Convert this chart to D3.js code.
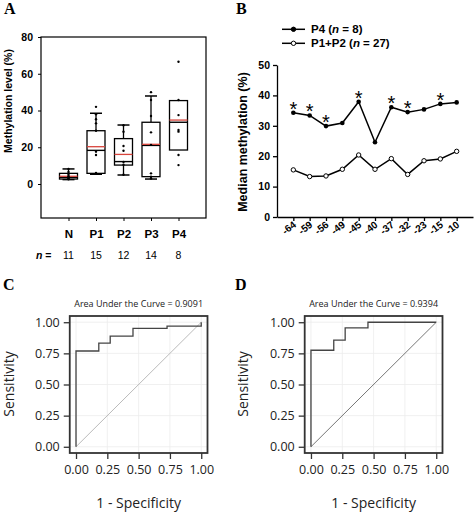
<!DOCTYPE html>
<html>
<head>
<meta charset="utf-8">
<title>Methylation panels</title>
<script src="https://d3js.org/d3.v7.min.js"></script>
<style>
  body { margin: 0; background: #fff; }
  svg { display: block; }
  .bold { font-family: "Liberation Sans", Arial, sans-serif; font-weight: bold; }
  .roc { font-family: "Open Sans", "Noto Sans", sans-serif; fill: #222; }
</style>
</head>
<body>
<div id="chart"></div>
<script>
// ---- panel A data (box plots)
var groups = ["N", "P1", "P2", "P3", "P4"];
var groupN = [11, 15, 12, 14, 8];
var boxLow = [2.7, 5.8, 10.3, 4.0, 18.5];
var boxHigh = [5.8, 29.0, 24.7, 33.6, 45.4];
var medians = [3.6, 18.3, 12.2, 21.0, 33.6];
var means = [4.2, 20.3, 16.1, 21.6, 34.8];
var whiskLow = [2.4, 5.3, 4.9, 2.7, null];
var whiskHigh = [8.2, 38.5, 32.1, 47.9, null];
var groupPoints = [
  [8.2, 6.5, 5.0, 4.2, 3.5, 3.0, 2.6],
  [42, 38, 35.2, 33, 29, 17.6, 15.8, 6.0, 5.5],
  [32, 28.5, 20.7, 18.1, 12, 10.5, 5.0],
  [50, 45.7, 37, 28.1, 21.3, 5.8, 4.0, 3.0],
  [66.5, 45.7, 37.5, 29.4, 28.5, 15.8, 10.3]
];
var yTicksA = [0, 20, 40, 60, 80];

// ---- panel B data (median methylation by CpG position)
var positions = ["-64", "-59", "-56", "-49", "-45", "-40", "-37", "-32", "-23", "-15", "-10"];
var p4Values = [34.3, 33.4, 29.9, 30.9, 37.9, 24.6, 36.1, 34.5, 35.4, 37.2, 37.7];
var p12Values = [15.5, 13.3, 13.5, 15.7, 20.4, 15.7, 19.2, 14.0, 18.5, 19.1, 21.6];
var significant = [1, 1, 1, 0, 1, 0, 1, 1, 0, 1, 0];
var yTicksB = [0, 10, 20, 30, 40, 50];

// ---- panels C and D (ROC curves)
var fprC = [0, 0, 0.182, 0.182, 0.273, 0.273, 0.455, 0.455, 0.727, 0.727, 1, 1];
var tprC = [0, 0.769, 0.769, 0.833, 0.833, 0.889, 0.889, 0.95, 0.95, 0.968, 0.968, 1];
var fprD = [0, 0, 0.182, 0.182, 0.273, 0.273, 0.455, 0.455, 1];
var tprD = [0, 0.775, 0.775, 0.857, 0.857, 0.955, 0.955, 1, 1];
var aucC = "0.9091", aucD = "0.9394";
var rocTicks = [0, 0.25, 0.5, 0.75, 1];

var svg = d3.select("#chart").append("svg")
  .attr("width", 474).attr("height", 512);

// panel letters
function letter(t, x, y) {
  svg.append("text").attr("x", x).attr("y", y).text(t)
    .style("font-family", "'Liberation Serif', 'Times New Roman', serif")
    .style("font-weight", "bold").style("font-size", "16px");
}
letter("A", 4, 14); letter("B", 236, 14);
letter("C", 3, 290); letter("D", 235, 290);

// ================= Panel A =================
var xA = d3.scalePoint().domain(groups).range([41, 206]).padding(1);
var yA = d3.scaleLinear().domain([-18.5, 80]).range([218, 37]);

var gA = svg.append("g");
gA.append("rect").attr("x", 41).attr("y", 37).attr("width", 165).attr("height", 181)
  .attr("fill", "none").attr("stroke", "#000").attr("stroke-width", 1.2);

var axA = gA.append("g").attr("transform", "translate(41,0)")
  .call(d3.axisLeft(yA).tickValues(yTicksA).tickSize(3).tickPadding(5));
axA.select(".domain").remove();
axA.selectAll("text").attr("class", "bold").style("font-size", "10.5px").attr("fill", "#000");

var axAx = gA.append("g").attr("transform", "translate(0,218)")
  .call(d3.axisBottom(xA).tickSize(3).tickPadding(9));
axAx.select(".domain").remove();
axAx.selectAll("text").attr("class", "bold").style("font-size", "11.5px").attr("fill", "#000");

gA.append("text").attr("class", "bold").style("font-size", "10.5px")
  .attr("transform", "translate(12,101) rotate(-90)").attr("text-anchor", "middle")
  .text("Methylation level (%)");

// n row
var nRow = gA.append("text").attr("class", "bold").attr("x", 36).attr("y", 259)
  .style("font-size", "10.5px");
nRow.append("tspan").style("font-style", "italic").text("n");
nRow.append("tspan").text(" =");
gA.selectAll(".ncount").data(groups).enter().append("text")
  .attr("x", function(d) { return xA(d); }).attr("y", 259)
  .attr("text-anchor", "middle")
  .style("font-family", "'Liberation Sans', Arial, sans-serif").style("font-size", "10.5px")
  .text(function(d, i) { return groupN[i]; });

var boxW = 18, capW = 12;
groups.forEach(function(g, i) {
  var cx = xA(g);
  if (whiskLow[i] !== null) {
    gA.append("line").attr("x1", cx).attr("x2", cx)
      .attr("y1", yA(whiskHigh[i])).attr("y2", yA(boxHigh[i]))
      .attr("stroke", "#000").attr("stroke-width", 1.3);
    gA.append("line").attr("x1", cx).attr("x2", cx)
      .attr("y1", yA(boxLow[i])).attr("y2", yA(whiskLow[i]))
      .attr("stroke", "#000").attr("stroke-width", 1.3);
    [whiskHigh[i], whiskLow[i]].forEach(function(v) {
      gA.append("line").attr("x1", cx - capW / 2).attr("x2", cx + capW / 2)
        .attr("y1", yA(v)).attr("y2", yA(v))
        .attr("stroke", "#000").attr("stroke-width", 1.5);
    });
  }
  gA.append("rect").attr("x", cx - boxW / 2).attr("y", yA(boxHigh[i]))
    .attr("width", boxW).attr("height", yA(boxLow[i]) - yA(boxHigh[i]))
    .attr("fill", "#fff").attr("stroke", "#000").attr("stroke-width", 1.3);
  gA.append("line").attr("x1", cx - boxW / 2).attr("x2", cx + boxW / 2)
    .attr("y1", yA(medians[i])).attr("y2", yA(medians[i]))
    .attr("stroke", "#000").attr("stroke-width", 1.4);
  gA.append("line").attr("x1", cx - boxW / 2).attr("x2", cx + boxW / 2)
    .attr("y1", yA(means[i])).attr("y2", yA(means[i]))
    .attr("stroke", "#d8443c").attr("stroke-width", 1.3);
  gA.selectAll(null).data(groupPoints[i]).enter().append("circle")
    .attr("cx", cx).attr("cy", function(d) { return yA(d); })
    .attr("r", 1.2).attr("fill", "#000");
});

// ================= Panel B =================
var xB = d3.scalePoint().domain(positions).range([277, 473]).padding(1);
var yB = d3.scaleLinear().domain([0, 50]).range([217, 65]);
var gB = svg.append("g");

var axBy = gB.append("g").attr("transform", "translate(277,0)")
  .call(d3.axisLeft(yB).tickValues(yTicksB).tickSize(4).tickSizeOuter(0).tickPadding(3));
axBy.selectAll("text").attr("class", "bold").style("font-size", "10.5px").attr("fill", "#000");
axBy.select(".domain").attr("stroke-width", 1.3);
axBy.selectAll(".tick line").attr("stroke-width", 1.3);

var axBx = gB.append("g").attr("transform", "translate(0,217)")
  .call(d3.axisBottom(xB).tickSize(4).tickSizeOuter(0));
axBx.select(".domain").attr("stroke-width", 1.3);
axBx.selectAll(".tick line").attr("stroke-width", 1.3);
axBx.selectAll("text").attr("class", "bold").style("font-size", "10px").attr("fill", "#000")
  .attr("text-anchor", "end").attr("dy", null).attr("y", 0)
  .attr("transform", "translate(3,9) rotate(-38)");

gB.append("text").attr("class", "bold").style("font-size", "12.5px")
  .attr("transform", "translate(247,142) rotate(-90)").attr("text-anchor", "middle")
  .text("Median methylation (%)");

var lineB = d3.line().x(function(d, i) { return xB(positions[i]); }).y(function(d) { return yB(d); });
gB.append("path").datum(p4Values).attr("d", lineB)
  .attr("fill", "none").attr("stroke", "#000").attr("stroke-width", 1.5);
gB.append("path").datum(p12Values).attr("d", lineB)
  .attr("fill", "none").attr("stroke", "#000").attr("stroke-width", 1.5);
gB.selectAll(".p4pt").data(p4Values).enter().append("circle")
  .attr("cx", function(d, i) { return xB(positions[i]); }).attr("cy", function(d) { return yB(d); })
  .attr("r", 2.3).attr("fill", "#000");
gB.selectAll(".p12pt").data(p12Values).enter().append("circle")
  .attr("cx", function(d, i) { return xB(positions[i]); }).attr("cy", function(d) { return yB(d); })
  .attr("r", 2.2).attr("fill", "#fff").attr("stroke", "#000").attr("stroke-width", 1);
gB.selectAll(".star").data(p4Values).enter().filter(function(d, i) { return significant[i]; })
  .append("text")
  .attr("x", function(d) { return xB(positions[p4Values.indexOf(d)]); })
  .attr("y", function(d) { return yB(d) + 3; })
  .attr("text-anchor", "middle")
  .style("font-family", "'Liberation Sans', Arial, sans-serif").style("font-size", "20px")
  .text("*");

// legend
[["P4", "8", true, 29.3], ["P1+P2", "27", false, 43.3]].forEach(function(L) {
  gB.append("line").attr("x1", 282).attr("x2", 305).attr("y1", L[3]).attr("y2", L[3])
    .attr("stroke", "#000").attr("stroke-width", 1.5);
  gB.append("circle").attr("cx", 293.5).attr("cy", L[3]).attr("r", 2.2)
    .attr("fill", L[2] ? "#000" : "#fff").attr("stroke", "#000").attr("stroke-width", 1);
  var t = gB.append("text").attr("class", "bold").attr("x", 311).attr("y", L[3] + 4)
    .style("font-size", "11.5px");
  t.append("tspan").text(L[0] + " (");
  t.append("tspan").style("font-style", "italic").text("n");
  t.append("tspan").text(" = " + L[1] + ")");
});

// ================= Panels C and D =================
function rocPanel(x0, x1, fpr, tpr, auc, diagColor, yLabelX) {
  var x = d3.scaleLinear().domain([-0.05, 1.05]).range([x0, x1]);
  var y = d3.scaleLinear().domain([-0.05, 1.05]).range([453, 316]);
  var g = svg.append("g");
  g.selectAll(".gx").data(rocTicks).enter().append("line")
    .attr("x1", function(d) { return x(d); }).attr("x2", function(d) { return x(d); })
    .attr("y1", 316).attr("y2", 453).attr("stroke", "#ececec").attr("stroke-width", 0.8);
  g.selectAll(".gy").data(rocTicks).enter().append("line")
    .attr("y1", function(d) { return y(d); }).attr("y2", function(d) { return y(d); })
    .attr("x1", x0).attr("x2", x1).attr("stroke", "#ececec").attr("stroke-width", 0.8);

  g.append("line").attr("x1", x(0)).attr("y1", y(0)).attr("x2", x(1)).attr("y2", y(1))
    .attr("stroke", diagColor).attr("stroke-width", 1);
  var pts = fpr.map(function(f, i) { return [f, tpr[i]]; });
  g.append("path").datum(pts)
    .attr("d", d3.line().x(function(d) { return x(d[0]); }).y(function(d) { return y(d[1]); }))
    .attr("fill", "none").attr("stroke", "#444").attr("stroke-width", 1.3);

  g.append("rect").attr("x", x0).attr("y", 316).attr("width", x1 - x0).attr("height", 137)
    .attr("fill", "none").attr("stroke", "#333").attr("stroke-width", 1.8);

  var ax = g.append("g").attr("transform", "translate(0,453)")
    .call(d3.axisBottom(x).tickValues(rocTicks).tickFormat(d3.format(".2f")).tickSize(6).tickPadding(6));
  ax.select(".domain").remove();
  ax.selectAll(".tick line").attr("stroke", "#333").attr("stroke-width", 1.3);
  ax.selectAll("text").attr("class", "roc").style("font-size", "12.5px").attr("fill", "#222");
  var ay = g.append("g").attr("transform", "translate(" + x0 + ",0)")
    .call(d3.axisLeft(y).tickValues(rocTicks).tickFormat(d3.format(".2f")).tickSize(6).tickPadding(4));
  ay.select(".domain").remove();
  ay.selectAll(".tick line").attr("stroke", "#333").attr("stroke-width", 1.3);
  ay.selectAll("text").attr("class", "roc").style("font-size", "12.5px").attr("fill", "#222");

  g.append("text").attr("class", "roc").attr("x", (x(0) + x(1)) / 2).attr("y", 307)
    .attr("text-anchor", "middle").style("font-size", "9px")
    .text("Area Under the Curve = " + auc);
  g.append("text").attr("class", "roc").attr("x", (x(0) + x(1)) / 2).attr("y", 508)
    .attr("text-anchor", "middle").style("font-size", "14px").text("1 - Specificity");
  g.append("text").attr("class", "roc")
    .attr("transform", "translate(" + yLabelX + ",384) rotate(-90)")
    .attr("text-anchor", "middle").style("font-size", "14px").text("Sensitivity");
}
rocPanel(69.75, 207.5, fprC, tprC, aucC, "#bbb", 13.5);
rocPanel(304.7, 442.5, fprD, tprD, aucD, "#777", 248);
</script>
</body>
</html>
